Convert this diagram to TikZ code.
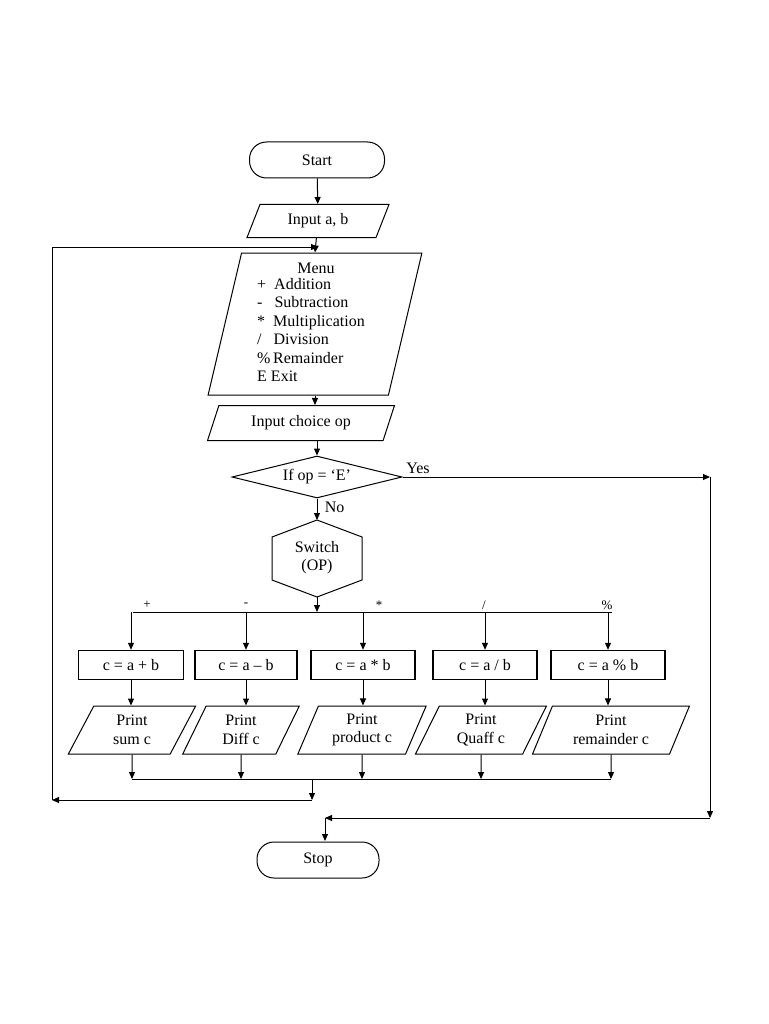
\documentclass[tikz,border=0pt]{standalone}
\usepackage{fontspec}
\setmainfont{Liberation Serif}
\usetikzlibrary{shapes.geometric,arrows.meta}
\begin{document}
\begin{tikzpicture}[x=1pt,y=-1pt,
  every node/.style={font=\fontsize{16}{18.5}\selectfont},
  ln/.style={line width=1pt,black},
  arr/.style={ln,-{Triangle[length=7pt,width=6pt]}},
  term/.style={draw,line width=1pt,rectangle,rounded corners=17pt,minimum width=#1,minimum height=36pt,inner sep=0pt},
  io/.style={draw,line width=1pt,trapezium,trapezium left angle=67,trapezium right angle=113,trapezium stretches=true,inner sep=1pt},
  box/.style={draw,line width=1.4pt,minimum height=29pt,inner sep=0pt}]
\useasboundingbox (0,0) rectangle (768,1024);
\node[term=135] (start) at (317,160) {Start};
\node[io,minimum width=142,minimum height=33] (in) at (318,221) {Input a, b};
\node[io,trapezium left angle=73.5,trapezium right angle=106.5,minimum width=214,minimum height=142] (menu) at (315,324) {\phantom{M}};
\node at (316,268) {Menu};
\node[align=left,anchor=north west,inner sep=0pt] (mt) at (257,278) {+\ \ Addition\\-\ \ \ Subtraction\\*\ \ Multiplication\\/\ \ \ Division\\\%\,Remainder\\E Exit};
\node[io,minimum width=187,minimum height=35] (ch) at (301,423) {Input choice op};
\node[draw,line width=1pt,diamond,aspect=4,minimum width=170,minimum height=42,inner sep=0pt] (if) at (317,477) {If op = `E'};
\node (sw) at (317,558) {\begin{tabular}{c}Switch\\(OP)\end{tabular}};
\draw[line width=1pt] (317,520) -- (362,537) -- (362,580) -- (317,597) -- (272,580) -- (272,537) -- cycle;
\coordinate (swb) at (317,597);
\node[term=122] (stop) at (318,860) {Stop};

\draw[arr] (start) -- (in);
\draw[arr] (in) -- (menu.north);
\draw[arr] (menu.south) -- (ch.north -| menu.south);
\draw[arr] (ch.south -| if.north) -- (if.north);
\draw[arr] (if.south) -- node[right=4pt,pos=0.4]{No} (317,520);

\coordinate (sp) at (317,612);
\draw[arr] (swb) -- (sp);
\draw[ln] (133,612) -- (612,612);
\foreach \i/\x/\w/\t/\sym/\lx/\px/\pw/\pt in {
  1/131/105/{c = a + b}/{+}/147/132/128/{Print\\sum c},
  2/246/102/{c = a -- b}/{-}/246/241/117/{Print\\Diff c},
  3/363/104/{c = a * b}/{*}/379/362/129/{Print\\product c},
  4/485/104/{c = a / b}/{/}/484/481/131/{Print\\Quaff c},
  5/608/114/{c = a \% b}/{\%}/607/611/157/{Print\\remainder c}}{
  \node[box,minimum width=\w] (b\i) at (\x,665) {\t};
  \node[io,minimum width=\pw,minimum height=48,align=center] (p\i) at (\px,730) {\pt};
  \node[font=\fontsize{13}{13}\selectfont] (l\i) at (\lx,605) {\sym};
  \draw[arr] (\x,612) -- (b\i.north);
  \draw[arr] (b\i.south) -- (p\i.north -| b\i.south);
  \coordinate (m\i) at (\px,779);
  \draw[arr] (p\i.south) -- (m\i);
}
\draw[ln] (m1) -- (m5);
\coordinate (j) at (312,800);
\draw[arr] (312,779) -- (j);
\coordinate (lc) at (52,800);
\coordinate (lt) at (52,247);
\draw[arr] (j) -- (lc);
\draw[arr] (lc) -- (lt) -- (318,247);
\coordinate (ry) at (710,477);
\coordinate (rb) at (710,818);
\coordinate (sc) at (325,818);
\draw[arr] (if.east) -- node[pos=0,anchor=south west]{Yes} (ry);
\draw[arr] (ry) -- (rb);
\draw[arr] (rb) -- (sc);
\draw[arr] (sc) -- (325,841);
\end{tikzpicture}
\end{document}
